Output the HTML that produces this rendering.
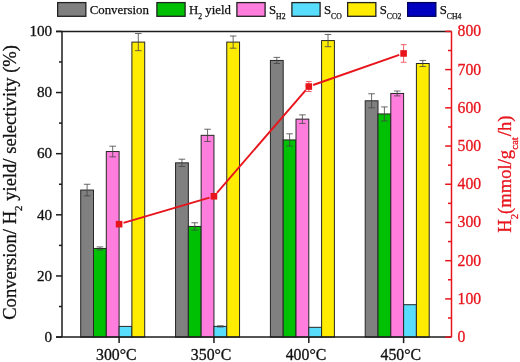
<!DOCTYPE html>
<html><head><meta charset="utf-8"><title>chart</title><style>html,body{margin:0;padding:0;background:#fff}svg{display:block}</style></head><body>
<svg width="520" height="362" viewBox="0 0 520 362" font-family="'Liberation Serif', serif">
<rect width="520" height="362" fill="#fff"/>
<rect x="80.70" y="190.06" width="12.8" height="147.04" fill="#808080" stroke="#262626" stroke-width="1.0"/>
<path d="M87.10 184.25V195.87M83.80 184.25h6.6M83.80 195.87h6.6" stroke="#444" stroke-width="0.8" fill="none"/>
<rect x="93.50" y="248.45" width="12.8" height="88.65" fill="#00c004" stroke="#262626" stroke-width="1.0"/>
<path d="M99.90 246.92V249.98M96.60 246.92h6.6M96.60 249.98h6.6" stroke="#444" stroke-width="0.8" fill="none"/>
<rect x="106.30" y="151.54" width="12.8" height="185.56" fill="#ff7edd" stroke="#262626" stroke-width="1.0"/>
<path d="M112.70 146.19V156.89M109.40 146.19h6.6M109.40 156.89h6.6" stroke="#444" stroke-width="0.8" fill="none"/>
<rect x="119.10" y="326.40" width="12.8" height="10.70" fill="#58ddfc" stroke="#262626" stroke-width="1.0"/>
<rect x="131.90" y="42.10" width="12.8" height="295.00" fill="#ffec00" stroke="#262626" stroke-width="1.0"/>
<path d="M138.30 33.54V50.66M135.00 33.54h6.6M135.00 50.66h6.6" stroke="#444" stroke-width="0.8" fill="none"/>
<rect x="175.55" y="162.85" width="12.8" height="174.25" fill="#808080" stroke="#262626" stroke-width="1.0"/>
<path d="M181.95 159.18V166.52M178.65 159.18h6.6M178.65 166.52h6.6" stroke="#444" stroke-width="0.8" fill="none"/>
<rect x="188.35" y="226.44" width="12.8" height="110.66" fill="#00c004" stroke="#262626" stroke-width="1.0"/>
<path d="M194.75 222.77V230.11M191.45 222.77h6.6M191.45 230.11h6.6" stroke="#444" stroke-width="0.8" fill="none"/>
<rect x="201.15" y="135.34" width="12.8" height="201.76" fill="#ff7edd" stroke="#262626" stroke-width="1.0"/>
<path d="M207.55 129.22V141.45M204.25 129.22h6.6M204.25 141.45h6.6" stroke="#444" stroke-width="0.8" fill="none"/>
<rect x="213.95" y="326.40" width="12.8" height="10.70" fill="#58ddfc" stroke="#262626" stroke-width="1.0"/>
<path d="M220.35 325.79V327.01M217.05 325.79h6.6M217.05 327.01h6.6" stroke="#444" stroke-width="0.8" fill="none"/>
<rect x="226.75" y="42.10" width="12.8" height="295.00" fill="#ffec00" stroke="#262626" stroke-width="1.0"/>
<path d="M233.15 35.99V48.21M229.85 35.99h6.6M229.85 48.21h6.6" stroke="#444" stroke-width="0.8" fill="none"/>
<rect x="270.40" y="60.44" width="12.8" height="276.66" fill="#808080" stroke="#262626" stroke-width="1.0"/>
<path d="M276.80 57.38V63.50M273.50 57.38h6.6M273.50 63.50h6.6" stroke="#444" stroke-width="0.8" fill="none"/>
<rect x="283.20" y="139.92" width="12.8" height="197.18" fill="#00c004" stroke="#262626" stroke-width="1.0"/>
<path d="M289.60 133.81V146.04M286.30 133.81h6.6M286.30 146.04h6.6" stroke="#444" stroke-width="0.8" fill="none"/>
<rect x="296.00" y="119.14" width="12.8" height="217.96" fill="#ff7edd" stroke="#262626" stroke-width="1.0"/>
<path d="M302.40 114.86V123.42M299.10 114.86h6.6M299.10 123.42h6.6" stroke="#444" stroke-width="0.8" fill="none"/>
<rect x="308.80" y="327.32" width="12.8" height="9.78" fill="#58ddfc" stroke="#262626" stroke-width="1.0"/>
<rect x="321.60" y="40.57" width="12.8" height="296.53" fill="#ffec00" stroke="#262626" stroke-width="1.0"/>
<path d="M328.00 34.46V46.69M324.70 34.46h6.6M324.70 46.69h6.6" stroke="#444" stroke-width="0.8" fill="none"/>
<rect x="365.20" y="100.79" width="12.8" height="236.31" fill="#808080" stroke="#262626" stroke-width="1.0"/>
<path d="M371.60 93.76V107.82M368.30 93.76h6.6M368.30 107.82h6.6" stroke="#444" stroke-width="0.8" fill="none"/>
<rect x="378.00" y="113.94" width="12.8" height="223.16" fill="#00c004" stroke="#262626" stroke-width="1.0"/>
<path d="M384.40 106.91V120.97M381.10 106.91h6.6M381.10 120.97h6.6" stroke="#444" stroke-width="0.8" fill="none"/>
<rect x="390.80" y="93.46" width="12.8" height="243.64" fill="#ff7edd" stroke="#262626" stroke-width="1.0"/>
<path d="M397.20 91.01V95.90M393.90 91.01h6.6M393.90 95.90h6.6" stroke="#444" stroke-width="0.8" fill="none"/>
<rect x="403.60" y="304.70" width="12.8" height="32.40" fill="#58ddfc" stroke="#262626" stroke-width="1.0"/>
<rect x="416.40" y="63.50" width="12.8" height="273.60" fill="#ffec00" stroke="#262626" stroke-width="1.0"/>
<path d="M422.80 60.44V66.56M419.50 60.44h6.6M419.50 66.56h6.6" stroke="#444" stroke-width="0.8" fill="none"/>
<path d="M56.0 31.4H451.5" stroke="#1c1c1c" stroke-width="1.5" fill="none"/>
<path d="M62.0 31.4V337.1" stroke="#1c1c1c" stroke-width="1.5" fill="none"/>
<path d="M56.0 337.1H451.5" stroke="#1c1c1c" stroke-width="1.5" fill="none"/>
<path d="M56.0 337.10H62.0" stroke="#1c1c1c" stroke-width="1.5"/>
<text x="52.2" y="341.90" font-size="15.2" text-anchor="end" fill="#111" stroke="#111" stroke-width="0.3">0</text>
<path d="M59.0 306.53H62.0" stroke="#1c1c1c" stroke-width="1.5"/>
<path d="M56.0 275.96H62.0" stroke="#1c1c1c" stroke-width="1.5"/>
<text x="52.2" y="280.76" font-size="15.2" text-anchor="end" fill="#111" stroke="#111" stroke-width="0.3">20</text>
<path d="M59.0 245.39H62.0" stroke="#1c1c1c" stroke-width="1.5"/>
<path d="M56.0 214.82H62.0" stroke="#1c1c1c" stroke-width="1.5"/>
<text x="52.2" y="219.62" font-size="15.2" text-anchor="end" fill="#111" stroke="#111" stroke-width="0.3">40</text>
<path d="M59.0 184.25H62.0" stroke="#1c1c1c" stroke-width="1.5"/>
<path d="M56.0 153.68H62.0" stroke="#1c1c1c" stroke-width="1.5"/>
<text x="52.2" y="158.48" font-size="15.2" text-anchor="end" fill="#111" stroke="#111" stroke-width="0.3">60</text>
<path d="M59.0 123.11H62.0" stroke="#1c1c1c" stroke-width="1.5"/>
<path d="M56.0 92.54H62.0" stroke="#1c1c1c" stroke-width="1.5"/>
<text x="52.2" y="97.34" font-size="15.2" text-anchor="end" fill="#111" stroke="#111" stroke-width="0.3">80</text>
<path d="M59.0 61.97H62.0" stroke="#1c1c1c" stroke-width="1.5"/>
<path d="M56.0 31.40H62.0" stroke="#1c1c1c" stroke-width="1.5"/>
<text x="52.2" y="36.20" font-size="15.2" text-anchor="end" fill="#111" stroke="#111" stroke-width="0.3">100</text>
<path d="M119.1 337.1v6" stroke="#1c1c1c" stroke-width="1.5"/>
<path d="M213.95 337.1v6" stroke="#1c1c1c" stroke-width="1.5"/>
<path d="M308.8 337.1v6" stroke="#1c1c1c" stroke-width="1.5"/>
<path d="M403.6 337.1v6" stroke="#1c1c1c" stroke-width="1.5"/>
<text x="116.30" y="360.3" font-size="15.8" text-anchor="middle" fill="#111" stroke="#111" stroke-width="0.3">300°C</text>
<text x="211.15" y="360.3" font-size="15.8" text-anchor="middle" fill="#111" stroke="#111" stroke-width="0.3">350°C</text>
<text x="306.00" y="360.3" font-size="15.8" text-anchor="middle" fill="#111" stroke="#111" stroke-width="0.3">400°C</text>
<text x="400.80" y="360.3" font-size="15.8" text-anchor="middle" fill="#111" stroke="#111" stroke-width="0.3">450°C</text>
<path d="M451.5 31.4V337.1" stroke="#e8141c" stroke-width="1.5" fill="none"/>
<path d="M451.5 337.10h-6.3" stroke="#e8141c" stroke-width="1.5"/>
<text x="457.6" y="342.00" font-size="15.7" fill="#e8141c" stroke="#e8141c" stroke-width="0.3">0</text>
<path d="M451.5 317.99h-3.5" stroke="#e8141c" stroke-width="1.5"/>
<path d="M451.5 298.89h-6.3" stroke="#e8141c" stroke-width="1.5"/>
<text x="457.6" y="303.79" font-size="15.7" fill="#e8141c" stroke="#e8141c" stroke-width="0.3">100</text>
<path d="M451.5 279.78h-3.5" stroke="#e8141c" stroke-width="1.5"/>
<path d="M451.5 260.68h-6.3" stroke="#e8141c" stroke-width="1.5"/>
<text x="457.6" y="265.57" font-size="15.7" fill="#e8141c" stroke="#e8141c" stroke-width="0.3">200</text>
<path d="M451.5 241.57h-3.5" stroke="#e8141c" stroke-width="1.5"/>
<path d="M451.5 222.46h-6.3" stroke="#e8141c" stroke-width="1.5"/>
<text x="457.6" y="227.36" font-size="15.7" fill="#e8141c" stroke="#e8141c" stroke-width="0.3">300</text>
<path d="M451.5 203.36h-3.5" stroke="#e8141c" stroke-width="1.5"/>
<path d="M451.5 184.25h-6.3" stroke="#e8141c" stroke-width="1.5"/>
<text x="457.6" y="189.15" font-size="15.7" fill="#e8141c" stroke="#e8141c" stroke-width="0.3">400</text>
<path d="M451.5 165.14h-3.5" stroke="#e8141c" stroke-width="1.5"/>
<path d="M451.5 146.04h-6.3" stroke="#e8141c" stroke-width="1.5"/>
<text x="457.6" y="150.94" font-size="15.7" fill="#e8141c" stroke="#e8141c" stroke-width="0.3">500</text>
<path d="M451.5 126.93h-3.5" stroke="#e8141c" stroke-width="1.5"/>
<path d="M451.5 107.82h-6.3" stroke="#e8141c" stroke-width="1.5"/>
<text x="457.6" y="112.72" font-size="15.7" fill="#e8141c" stroke="#e8141c" stroke-width="0.3">600</text>
<path d="M451.5 88.72h-3.5" stroke="#e8141c" stroke-width="1.5"/>
<path d="M451.5 69.61h-6.3" stroke="#e8141c" stroke-width="1.5"/>
<text x="457.6" y="74.51" font-size="15.7" fill="#e8141c" stroke="#e8141c" stroke-width="0.3">700</text>
<path d="M451.5 50.51h-3.5" stroke="#e8141c" stroke-width="1.5"/>
<path d="M451.5 31.40h-6.3" stroke="#e8141c" stroke-width="1.5"/>
<text x="457.6" y="36.30" font-size="15.7" fill="#e8141c" stroke="#e8141c" stroke-width="0.3">800</text>
<path d="M123.51 222.88L209.54 197.58" fill="none" stroke="#e8141c" stroke-width="1.9"/>
<path d="M216.96 192.81L305.79 90.02" fill="none" stroke="#e8141c" stroke-width="1.9"/>
<path d="M313.14 85.02L399.26 54.96" fill="none" stroke="#e8141c" stroke-width="1.9"/>
<rect x="115.80" y="220.88" width="6.6" height="6.6" fill="#e8141c"/>
<rect x="210.65" y="192.99" width="6.6" height="6.6" fill="#e8141c"/>
<path d="M308.80 81.57V91.51M305.90 81.57h5.8M305.90 91.51h5.8" stroke="#f0505a" stroke-width="0.9" fill="none"/>
<rect x="305.50" y="83.24" width="6.6" height="6.6" fill="#e8141c"/>
<path d="M403.60 44.66V62.24M400.70 44.66h5.8M400.70 62.24h5.8" stroke="#f0505a" stroke-width="0.9" fill="none"/>
<rect x="400.30" y="50.15" width="6.6" height="6.6" fill="#e8141c"/>
<rect x="57.65" y="2.6" width="28.2" height="13.7" fill="#808080" stroke="#222" stroke-width="1.3"/>
<text x="89.7" y="13.7" font-size="12.85" fill="#111" stroke="#111" stroke-width="0.25">Conversion</text>
<rect x="156.9" y="2.6" width="28.2" height="13.7" fill="#00c004" stroke="#222" stroke-width="1.3"/>
<text x="188.95" y="13.7" font-size="12.85" fill="#111" stroke="#111" stroke-width="0.25">H<tspan font-size="7.7" dy="5">2</tspan><tspan dy="-5"> yield</tspan></text>
<rect x="236.9" y="2.6" width="28.2" height="13.7" fill="#ff7edd" stroke="#222" stroke-width="1.3"/>
<text x="268.95" y="13.7" font-size="12.85" fill="#111" stroke="#111" stroke-width="0.25">S<tspan font-size="7.7" dy="5">H2</tspan></text>
<rect x="291.9" y="2.6" width="28.2" height="13.7" fill="#58ddfc" stroke="#222" stroke-width="1.3"/>
<text x="323.95" y="13.7" font-size="12.85" fill="#111" stroke="#111" stroke-width="0.25">S<tspan font-size="7.7" dy="5">CO</tspan></text>
<rect x="347.65" y="2.6" width="28.2" height="13.7" fill="#ffec00" stroke="#222" stroke-width="1.3"/>
<text x="379.7" y="13.7" font-size="12.85" fill="#111" stroke="#111" stroke-width="0.25">S<tspan font-size="7.7" dy="5">CO2</tspan></text>
<rect x="407.65" y="2.6" width="28.2" height="13.7" fill="#0000c0" stroke="#00005a" stroke-width="1.3"/>
<text x="439.7" y="13.7" font-size="12.85" fill="#111" stroke="#111" stroke-width="0.25">S<tspan font-size="7.7" dy="5">CH4</tspan></text>
<text transform="translate(15.9 182.4) rotate(-90)" font-size="18.58" text-anchor="middle" fill="#111" stroke="#111" stroke-width="0.3">Conversion/ H<tspan font-size="10.9" dy="6.5">2</tspan><tspan dy="-6.5"> yield/ selectivity (%)</tspan></text>
<text transform="translate(511.2 174.2) rotate(-90)" font-size="18.6" text-anchor="middle" fill="#e8141c" stroke="#e8141c" stroke-width="0.3">H<tspan font-size="10.9" dy="6.5">2</tspan><tspan dy="-6.5">(mmol/g</tspan><tspan font-size="10.9" dy="6.5">cat</tspan><tspan dy="-6.5" dx="0.9">/h)</tspan></text>
</svg>
</body></html>
